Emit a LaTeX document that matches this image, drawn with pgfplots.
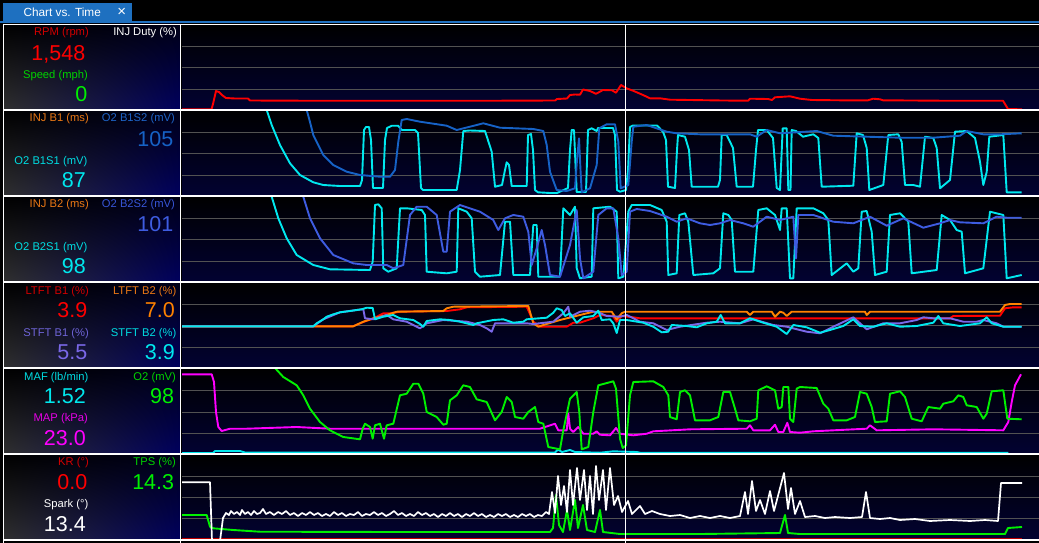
\documentclass[border=0pt]{standalone}
\usepackage{fontspec}
\setmainfont{Liberation Sans}
\usepackage{pgfplots}
\pgfplotsset{compat=1.18}
\usetikzlibrary{shadings}

\definecolor{tabblue}{RGB}{30,112,192}
\definecolor{gridc}{RGB}{82,82,82}
\definecolor{bgbot}{RGB}{2,2,50}
\definecolor{cy}{RGB}{0,232,238}
\definecolor{bsa}{RGB}{22,98,198}
\definecolor{bsb}{RGB}{62,92,225}
\definecolor{org}{RGB}{255,130,0}
\definecolor{pur}{RGB}{122,104,232}
\definecolor{grn}{RGB}{0,240,0}
\definecolor{mag}{RGB}{255,0,255}
\definecolor{rd}{RGB}{255,0,0}
\definecolor{dkgrn}{RGB}{40,140,40}
\definecolor{dkred}{RGB}{190,0,0}
% label colours
\definecolor{lbred}{RGB}{210,0,0}
\definecolor{lborg}{RGB}{235,120,20}
\definecolor{lbcy}{RGB}{0,220,225}
\definecolor{lbbsa}{RGB}{30,100,200}
\definecolor{lbbsb}{RGB}{55,85,215}
\definecolor{lbpur}{RGB}{110,100,215}
\definecolor{lbgrn}{RGB}{0,210,0}
\definecolor{lbmag}{RGB}{230,0,230}
% left box corners
\definecolor{cUL}{RGB}{0,0,0}
\definecolor{cUR}{RGB}{0,0,22}
\definecolor{cLL}{RGB}{48,48,48}
\definecolor{cLR}{RGB}{0,0,95}

\pgfplotsset{
  panel/.style={
    width=857pt, height=86pt, scale only axis,
    xmin=182, xmax=1039, y dir=reverse,
    anchor=north west,
    axis line style={draw=none}, tick style={draw=none},
    xtick=\empty, yticklabels={},
    ymajorgrids, major grid style={color=gridc, line width=1pt},
    axis background/.style={top color=black, bottom color=bgbot},
    every axis plot/.append style={line width=1.9pt, line join=round, no markers},
  }
}

\newcommand{\lab}[4]{\node[anchor=base east, inner sep=0pt, text=#3,
  font=\fontsize{11.2}{13}\selectfont] at (#1,#2) {#4};}
\newcommand{\val}[4]{\node[anchor=base east, inner sep=0pt, text=#3,
  font=\fontsize{21.5}{24}\selectfont] at (#1,#2) {#4};}

\begin{document}
\begin{tikzpicture}
\fill[black] (0pt,0pt) rectangle (1039pt,-543pt);
\useasboundingbox (0pt,0pt) rectangle (1039pt,-543pt);

% RPM / speed
\begin{axis}[panel, at={(182pt,-24pt)}, ymin=24, ymax=110, ytick={46,67.7,89.3}]
\addplot[dkgrn, line width=1pt] coordinates {(182,109.5) (1022,109.5)};
\addplot[rd] coordinates {(182,109.3)(211.5,109.3)(213,104)(216,91)(219,92)(222,95)(226,98)(235,98.5)(248,98.5)(250,100.5)(300,100.7)(400,100.7)(500,100.7)(555,100.5)(557,99)(567,98.5)(570,95)(575,94.5)(580,94.7)(583,89.5)(590,91)(596,93.8)(603,90)(612,90.3)(616,92.7)(621,85)(627,88.5)(633,90.7)(643,95)(650,98.3)(660,98.3)(670,99.7)(710,100.3)(723,100.5)(748,100.7)(750,98.7)(768,99)(772,100)(775,97.3)(790,96.3)(800,98.7)(812,100)(840,100.3)(868,100.3)(873,98.7)(880,99.3)(883,100.3)(940,100.7)(1003,100.7)(1008,109)(1022,109.3)};
\end{axis}

% O2 bank 1
\begin{axis}[panel, at={(182pt,-110pt)}, ymin=110, ymax=196, ytick={132.3,153.3,175.3}]
\addplot[cy] coordinates {(266.7,110)(271.7,125)(280,145)(290,163.3)(300,175)(313.3,182.3)(323.3,185)(340,186)(360,186)(362,180)(364,130)(366,127)(369,127)(371,140)(373,188)(383,188)(385,140)(387,128)(392,125.7)(398,125.7)(402,130)(415,130)(418,133)(421,188)(423,190)(456.7,190)(460,170)(463.3,131)(470,130.5)(485,131)(491.7,151.7)(495,186.7)(502,185)(505,170)(506.7,162.3)(509,165)(511.7,186)(526.7,186)(528,135)(531,134)(533,150)(535,190)(538,192.3)(550,193)(557,193)(568,188)(570,150)(571.7,130)(574,130)(576.7,192)(586,192)(588,130)(591.7,128.3)(596.7,131)(598,128)(613,128)(615,135)(617,190)(620,191.7)(626,190)(628,170)(630,127)(633,125.5)(657,125.5)(663,131.7)(666,140)(668,186.7)(675,188)(677,150)(678,135)(685,136.7)(689,150)(691.7,186.7)(718,186.7)(720,180)(721.7,135)(726.7,135)(733,148)(736.7,186.7)(753,186.7)(756,150)(758,130)(766.7,130)(773,138)(776.7,188)(780,190)(782.7,128.3)(786.7,128.3)(788.3,190)(790.5,190)(791.7,130)(796,131)(803,136.7)(813.3,134.3)(818.3,138)(821.7,186.7)(853.3,185.7)(856.7,133.3)(863,135)(866.7,148)(869.3,190)(883.3,185)(888.3,135)(898.3,134.3)(901.7,142)(905,185)(913.3,185)(920,186.7)(925,136.7)(933.3,138)(936.7,148)(940,188.3)(950,180)(955,131.7)(966.7,131)(975,138)(980,161.7)(983.3,185)(986.7,172)(989.3,136.7)(1003.3,135)(1006.7,192.3)(1021.7,192.3)};
\addplot[bsa] coordinates {(306.7,110)(310,122)(313.3,135)(323.3,155)(333.3,165)(346.7,171.7)(360,175)(380,176.7)(390,176.7)(395,170)(398.3,141.7)(401.7,120)(406.7,119)(420,121.7)(446.7,125.7)(456.7,130)(470,126.7)(483.3,123.3)(500,127.7)(533.3,129)(543.3,131)(546.7,145)(550,171.7)(556.7,190)(566.7,191)(575,188.3)(577,160)(579,138.3)(580.5,170)(581.7,192.3)(590,188.3)(596.7,165)(599.3,128.3)(606.7,124.3)(615,124.3)(618.3,141.7)(620.7,188.3)(628.3,185)(631.7,141.7)(633.3,126.7)(646.7,125)(666.7,131.7)(676.7,133.3)(700,134.3)(750,134.3)(756.7,136.7)(766.7,130)(780,133.3)(816.7,131)(833.3,135.7)(900,137.7)(933.3,137.7)(960,135.7)(966.7,131)(983.3,134.3)(1000,134.3)(1021.7,133.3)};
\end{axis}

% O2 bank 2
\begin{axis}[panel, at={(182pt,-196pt)}, ymin=196, ymax=282, ytick={218.3,239.5,261}]
\addplot[cy] coordinates {(271.7,196.7)(278.3,218.3)(286.7,238.3)(296.7,255)(313.3,265)(330,269.3)(370,270)(372.7,261.7)(375,205)(378.3,204.3)(381.7,208.3)(383.3,268.3)(388.3,271.7)(396.7,268.3)(400,208.3)(406.7,208.3)(421.7,210)(425,215)(426.7,271.7)(446.7,273.3)(456.7,271.7)(458.3,208.3)(466.7,211.7)(471.7,218.3)(475,271.7)(480,276.7)(500,275)(505,221.7)(510,221.7)(513.3,275)(530,275)(533.3,225)(536.7,225)(538.3,276.7)(560,276.7)(563.3,208.3)(570,215)(575,206.7)(576.7,268.3)(580,278.3)(591.7,276.7)(593.3,208.3)(610,206.7)(616.7,211.7)(618.3,278.3)(623.3,276.7)(628.3,211.7)(631.7,205)(650,205)(661.7,210)(666.7,221.7)(668.3,275)(676.7,273.3)(679.3,215)(685,213.3)(688.3,221.7)(693.3,275)(713.3,273.3)(720,268.3)(723.3,213.3)(728.3,215)(731.7,220)(735,271.7)(753.3,271.7)(758.3,210)(766.7,208.3)(775,215)(780,230)(781.7,208.3)(786.7,208.3)(790,278.3)(793.3,278.3)(796.7,208.3)(813.3,208.3)(823.3,213.3)(828.3,220)(831.7,275)(846.7,263.3)(853.3,271.7)(858.3,268.3)(861.7,211.7)(866.7,211)(871.7,231.7)(875,275)(886.7,271.7)(890,215)(900,213.3)(908.3,221.7)(911.7,273.3)(936.7,270)(941.7,215)(950,220)(956.7,230)(961.7,231.7)(965,273.3)(983.3,268.3)(990,211.7)(1003.3,215)(1006.7,278.3)(1021.7,275)};
\addplot[bsb] coordinates {(303.3,196.7)(310,218.3)(320,238.3)(333.3,255)(353.3,263.3)(366.7,265)(386.7,265)(393.3,268.3)(403.3,265)(410,215)(416.7,206.7)(426.7,206.7)(436.7,215)(443.3,251.7)(446.7,251.7)(450,211.7)(460,205)(480,211.7)(493.3,220)(498.3,230)(505,218.3)(513.3,215)(523.3,216.7)(528.3,231.7)(531.7,265)(536.7,248.3)(541.7,230)(545,245)(550,275)(560,276.7)(570,245)(576.7,210)(580,258.3)(583.3,278.3)(593.3,271.7)(598.3,215)(606.7,208.3)(613.3,208.3)(618.3,238.3)(621.7,275)(626.7,271.7)(630,211.7)(636.7,209)(650,211)(666.7,216.7)(676.7,221.7)(686.7,218.3)(700,223.3)(710,225)(720,223.3)(730,220)(743.3,223.3)(753.3,226.7)(766.7,216.7)(780,220)(793.3,216.7)(796,258.3)(798.3,215)(813.3,215)(833.3,221.7)(853.3,223.3)(870,216.7)(886.7,225.7)(903.3,218.3)(923.3,227.7)(940,223.3)(950,220)(960,222.3)(983.3,223.3)(996.7,216.7)(1006.7,217.7)(1021.7,217.7)};
\end{axis}

% fuel trims
\begin{axis}[panel, at={(182pt,-282pt)}, ymin=282, ymax=368, ytick={304.3,325.7,347.3}]
\addplot[rd] coordinates {(182,326.3)(353,326.3)(363.3,322)(373.3,318.5)(383.3,313.3)(390,313.3)(400,311.7)(446.7,311)(460,309.3)(466.7,307.3)(526.7,306.7)(533.3,321.7)(540,326.7)(566.7,326.7)(573.3,322.7)(580,322.7)(593.3,318.3)(600,315)(613,316)(616.7,321.7)(621.7,316)(633.3,317.3)(640,318.3)(950,318.3)(953.3,316)(1000,315.7)(1005,308.3)(1013.3,307.3)(1021.7,307.3)};
\addplot[org] coordinates {(182,326.3)(353.3,326.3)(363.3,321.7)(373.3,318.3)(386.7,315)(396.7,311.7)(443.3,311)(446.7,308.3)(453.3,306.7)(528.3,306)(533.3,323.3)(538.3,326.7)(543.3,325)(560,320)(573.3,316.7)(580,315)(593.3,311.7)(611.7,311.7)(616.7,319.3)(621.7,313.3)(625,311.7)(746.7,311.7)(750,315)(753.3,311.7)(771.7,311.7)(775,316.7)(780,311.7)(783.3,312.7)(786.7,316)(791.7,311.7)(865,311.7)(866.7,315)(870,311.7)(1000,311.7)(1005,305)(1010,304)(1021.7,304)};
\addplot[pur] coordinates {(182,326.3)(313.3,326.3)(323.3,319.3)(340,312.3)(361.7,309.3)(363.3,309.3)(365,318.3)(373.3,319.3)(386.7,315)(393.3,319.3)(406.7,321.7)(416.7,326.7)(420,328.3)(426.7,323.3)(443.3,320)(466.7,321.7)(480,325)(486.7,328.3)(491.7,331.7)(495,323.3)(513.3,323.3)(526.7,323.3)(533.3,324)(553.3,321.7)(563.3,313.3)(568.3,306.7)(570,316.7)(580,311.7)(590,310.7)(600,313)(606.7,316)(620,316.7)(626.7,315)(640,321.7)(653.3,323.3)(666.7,330)(680,326.7)(706.7,322.7)(720,321.7)(740,323.3)(753.3,319.3)(773.3,325)(786.7,326.7)(806.7,331.7)(820,333.3)(833.3,326.7)(853.3,317.3)(866.7,329.3)(883.3,323.3)(900,323.3)(916.7,320)(923.3,317.3)(933.3,318.3)(950,318.3)(963.3,321.7)(976.7,321.7)(983.3,320)(996.7,323.3)(1003.3,326.7)(1021.7,326.7)};
\addplot[cy] coordinates {(182,326.3)(313.3,326.3)(316.7,323.3)(323.3,319.3)(326.7,316.7)(333.3,314.3)(340,312.3)(350,311)(361.7,309.3)(366.7,307.7)(372.7,308)(375,319.3)(383.3,316.7)(393.3,315)(400,318.3)(413.3,320)(420,324)(423.3,326.7)(426.7,321)(440,319.3)(450,320)(460,321.7)(473.3,325)(476.7,323.3)(493.3,320)(503.3,319.3)(513.3,322.7)(523.3,321.7)(526.7,319.3)(546.7,317.7)(553.3,312.7)(556.7,308.3)(561.7,310)(565,316)(570,313.3)(576.7,322.7)(583.3,317.3)(593.3,316)(598.3,310.7)(601.7,320)(610,319.3)(613.3,323.3)(616.7,333)(620,320)(626.7,320)(643.3,322.7)(653.3,326.7)(661.7,332.3)(668.3,331.7)(671.7,325)(686.7,326)(696.7,327.3)(706.7,323.3)(716.7,321.7)(720.7,315)(725,323.3)(740,323.3)(750,318.3)(763.3,322.7)(776.7,326.7)(786.7,334)(793.3,325)(806.7,327.3)(820,332.7)(830,330)(843.3,326)(853.3,319.3)(860,326)(873.3,326.7)(886.7,323.3)(900,326.7)(916.7,326)(933.3,322.7)(938.3,316)(943.3,323.3)(960,326)(980,323.3)(986.7,317.3)(991.7,323.3)(1003.3,326.7)(1021.7,326.7)};
\end{axis}

% MAF / MAP / O2
\begin{axis}[panel, at={(182pt,-368pt)}, ymin=368, ymax=454, ytick={390.7,412,433}]
\addplot[cy] coordinates {(182,453)(213,453)(215,451)(240,451)(245,452.5)(555,452.5)(558,449.5)(562,452)(570,450)(575,452)(600,452.7)(613.3,451.3)(636.7,452)(640,452.7)(750,452.7)(1008.3,452.7)};
\addplot[mag] coordinates {(182,374.3)(211.7,374.3)(214,382)(216,412)(218.3,427)(221.7,431)(230,428.7)(246.7,428.7)(296.7,427)(330,428.7)(540,428.7)(555,423.7)(558.3,430.3)(566.7,430.3)(568.3,413.7)(570,428.7)(573.3,432)(578.3,427)(583.3,433.7)(593.3,433.7)(596.7,431.3)(600,434.7)(610,435.3)(616,428)(620,433.7)(633.3,435.3)(646.7,433.7)(653.3,431.3)(690,429.3)(746.7,428.7)(750,425.3)(753.3,430.3)(770,430.3)(775,424.7)(778.3,432)(783.3,432)(787.3,422.7)(790,432)(800,432.7)(813.3,431.3)(833.3,430.3)(866.7,428.7)(870,425.3)(876.7,430.3)(933.3,429.3)(1003.3,430.3)(1008.3,422)(1011.7,402)(1015,385.3)(1021,374.3)};
\addplot[grn] coordinates {(275,368)(283.3,377)(296.7,385.3)(303.3,395.3)(310,408.7)(320,422)(330,430.3)(343.3,437)(360,439.3)(362.7,428.7)(365,423.7)(370,427)(372.7,438.7)(375,425.3)(380,423.7)(384,438.7)(386.7,425.3)(393.3,423.7)(400,395.3)(406.7,393.7)(413.3,383.7)(418.3,383.7)(423.3,393.7)(426.7,412)(436.7,417)(443.3,424.7)(446.7,423.7)(450,400.3)(456.7,395.3)(463.3,385.3)(470,387)(476.7,399.3)(486.7,402)(495,420.3)(501.7,412)(506.7,397)(511.7,402)(515,417)(523.3,418.7)(528.3,412)(535,407)(538.3,422)(543.3,423.7)(548.3,447)(560,449.3)(563.3,430.3)(570,398.7)(576.7,392)(579.3,412)(581.7,449.3)(588.3,447)(593.3,412)(598.3,385.3)(613.3,381.3)(616,388.7)(620,438.7)(622.7,448)(626,445.3)(630,395.3)(633.3,382)(653.3,381.3)(663.3,387)(668.3,395.3)(670,417)(676.7,419.3)(680,392)(685,390.3)(690,395.3)(695,420.3)(710,420.3)(718.3,417)(723.3,392)(730,392)(735,408.7)(738.3,420.3)(750,421.3)(756.7,418.7)(758.3,390.3)(766.7,386.3)(775,390.3)(778.3,408.7)(781.7,407)(783.3,387)(788.3,387)(790,418.7)(793.3,422)(796.7,388.7)(800,387)(816.7,388)(823.3,403.7)(828.3,408.7)(833.3,420.3)(846.7,420.3)(855,417)(860,392)(866.7,393.7)(871.7,407)(875,422)(886.7,421.3)(890,393.7)(900,391.3)(905,397)(911.7,418.7)(921.7,421.3)(928.3,407)(940,408.7)(943.3,403.7)(953.3,401.3)(958.3,395.3)(963.3,397)(966.7,405.3)(976.7,407)(983.3,418.7)(986.7,413.7)(991.7,391.3)(1003.3,390.3)(1007.3,418.7)(1021.7,419.3)};
\end{axis}

% KR / TPS / spark
\begin{axis}[panel, at={(182pt,-454pt)}, ymin=454, ymax=540, ytick={476,497.3,518.3}]
\addplot[dkred, line width=1.2pt] coordinates {(182,539)(1022,539)};
\addplot[grn] coordinates {(182,515)(206.7,515)(210,526.7)(213.3,528.3)(233.3,530)(260,531.7)(400,532)(550,532)(553,528)(556,495)(559,525)(563,532)(567,510)(570,530)(575,500)(578,528)(583,505)(587,530)(595,532)(600,510)(603,532)(620,534)(700,534)(780,533)(785,515)(788,533)(800,534)(1005,534)(1008,528)(1022,527)};
\addplot[white, line width=1.7pt] coordinates {(182,482.3)(210,482.3)(212,541)(220,541)(223,518)(226,513)(229,515)(231,511)(234,514)(237,512)(240,515)(242,510)(245,514)(248,512)(251,515)(254,511)(257,514)(260,513)(263,509)(266,514)(270,512)(274,515)(278,512)(282,514)(286,511)(290,515)(294,513)(298,516)(302,513)(306,515)(310,512)(314,515)(318,513)(322,516)(326,514)(330,516)(334,512)(338,515)(342,513)(346,516)(350,514)(354,515)(358,512)(362,516)(366,514)(370,515)(374,512)(378,515)(382,513)(386,516)(390,514)(394,511)(398,515)(402,513)(406,516)(410,514)(414,516)(418,512)(422,515)(426,513)(430,516)(434,514)(438,517)(442,514)(446,516)(450,513)(454,516)(458,514)(462,517)(466,514)(470,516)(474,513)(478,516)(482,514)(486,517)(490,515)(494,517)(498,514)(502,516)(506,514)(510,517)(514,515)(518,517)(522,514)(526,516)(530,514)(534,517)(538,515)(542,516)(546,512)(549,514)(552,492)(555,513)(558,476)(561,505)(564,486)(567,512)(570,470)(573,505)(577,468)(580,500)(584,470)(587,510)(590,476)(593,514)(596,466)(599,500)(603,470)(606,510)(610,468)(614,505)(618,496)(622,512)(628,501)(632,514)(640,506)(645,514)(652,511)(660,514)(670,516)(680,515)(690,518)(700,516)(710,518)(720,516)(730,518)(740,516)(745,492)(748,514)(752,481)(756,511)(760,500)(765,514)(770,491)(774,511)(784,473)(788,509)(791,488)(795,514)(800,501)(805,517)(815,516)(825,518)(835,517)(850,518)(862,517)(866,492)(870,518)(880,519)(890,518)(900,520)(915,519)(930,521)(950,520)(970,521)(985,520)(998,521)(1001,483)(1022,483)};
\end{axis}

\begin{scope}[x=1pt, y=-1pt]
  % tab
  \fill[tabblue] (0,20.7) rectangle (1039,23.2);
  \fill[tabblue] (3,3.3) rectangle (132,23);
  \node[anchor=base west, inner sep=0pt, text=white, font=\fontsize{11.8}{13}\selectfont] at (23.3,17) {Chart vs. Time};
  \node[inner sep=0pt, text=white, font=\fontsize{15}{15}\selectfont] at (121.7,12.8) {×};
  % left boxes
  \foreach \t in {24,110,196,282,368,454} {
    \shade[upper left=cUL, upper right=cUR, lower left=cLL, lower right=cLR]
      (3.5,\t) rectangle (180.5,\t+86);
  }
  % frame lines
  \foreach \t in {24.5,110,196,282,368,454,540} {
    \draw[white, line width=1.3pt] (3,\t) -- (1039,\t);
  }
  \draw[white, line width=1.3pt] (3.5,24) -- (3.5,543);
  \draw[white, line width=1.3pt] (180.5,24) -- (180.5,543);
  \draw[white, line width=1.1pt] (625.7,24) -- (625.7,543);

  % panel 1
  \lab{89}{36}{lbred}{RPM (rpm)}
  \val{85.5}{60.7}{rd}{1,548}
  \lab{88}{78.3}{lbgrn}{Speed (mph)}
  \val{87.5}{101.7}{grn}{0}
  \lab{177}{36}{white}{INJ Duty (\%)}
  % panel 2
  \lab{89}{121.7}{lborg}{INJ B1 (ms)}
  \lab{175}{121.7}{lbbsa}{O2 B1S2 (mV)}
  \val{173.5}{146}{bsa}{105}
  \lab{87.5}{164.3}{lbcy}{O2 B1S1 (mV)}
  \val{86}{187.3}{cy}{87}
  % panel 3
  \lab{89}{207.7}{lborg}{INJ B2 (ms)}
  \lab{175}{207.7}{lbbsb}{O2 B2S2 (mV)}
  \val{173.5}{231.7}{bsb}{101}
  \lab{87.5}{250}{lbcy}{O2 B2S1 (mV)}
  \val{86}{273.3}{cy}{98}
  % panel 4
  \lab{89}{294}{lbred}{LTFT B1 (\%)}
  \lab{176.5}{294}{lborg}{LTFT B2 (\%)}
  \val{87.5}{317.3}{rd}{3.9}
  \val{175}{317.3}{org}{7.0}
  \lab{89}{336}{lbpur}{STFT B1 (\%)}
  \lab{176.5}{336}{lbcy}{STFT B2 (\%)}
  \val{87.5}{359.3}{pur}{5.5}
  \val{175}{359.3}{cy}{3.9}
  % panel 5
  \lab{88.5}{380}{lbcy}{MAF (lb/min)}
  \lab{176}{380}{lbgrn}{O2 (mV)}
  \val{86}{403.3}{cy}{1.52}
  \val{174.3}{403.3}{grn}{98}
  \lab{88}{421.7}{lbmag}{MAP (kPa)}
  \val{86}{445.7}{mag}{23.0}
  % panel 6
  \lab{89}{465.7}{lbred}{KR (°)}
  \lab{176}{465.7}{lbgrn}{TPS (\%)}
  \val{87.5}{489}{rd}{0.0}
  \val{174.3}{489}{grn}{14.3}
  \lab{88.5}{507.3}{white}{Spark (°)}
  \val{86}{531.7}{white}{13.4}
\end{scope}
\end{tikzpicture}
\end{document}
